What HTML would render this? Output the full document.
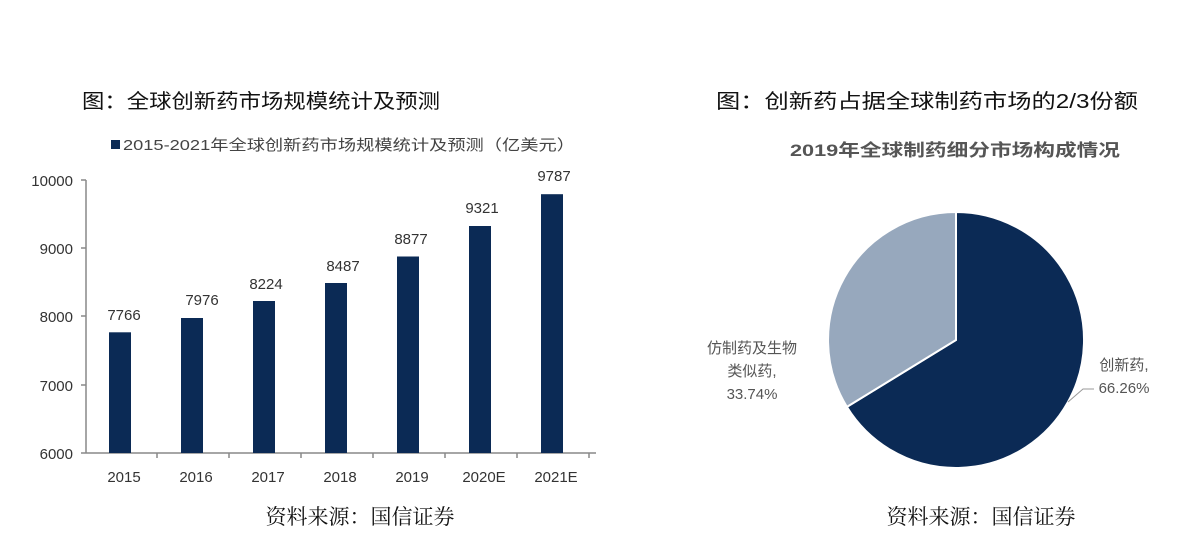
<!DOCTYPE html>
<html><head><meta charset="utf-8"><style>
html,body{margin:0;padding:0;background:#fff;}
svg{display:block;}
.s{font-family:"Liberation Sans","Noto Sans CJK SC",sans-serif;}
.serif{font-family:"Liberation Serif","Noto Serif CJK SC",serif;}
</style></head><body>
<svg width="1198" height="558" viewBox="0 0 1198 558" xmlns="http://www.w3.org/2000/svg">
<g class="s">
<text x="82" y="108" font-size="20" fill="#111" textLength="358" lengthAdjust="spacingAndGlyphs">图：全球创新药市场规模统计及预测</text>
<text x="716" y="108" font-size="20" fill="#111" textLength="422" lengthAdjust="spacingAndGlyphs">图：创新药占据全球制药市场的2/3份额</text>
<rect x="111" y="140" width="9" height="9" fill="#0b2a55"/>
<text x="123" y="150" font-size="15" fill="#444" textLength="452" lengthAdjust="spacingAndGlyphs">2015-2021年全球创新药市场规模统计及预测（亿美元）</text>
<g stroke="#888" stroke-width="1.5">
<line x1="86" y1="180" x2="86" y2="453"/>
<line x1="86" y1="453" x2="596" y2="453"/>
<line x1="81" y1="180" x2="86" y2="180"/>
<line x1="81" y1="248" x2="86" y2="248"/>
<line x1="81" y1="316" x2="86" y2="316"/>
<line x1="81" y1="385" x2="86" y2="385"/>
<line x1="81" y1="453" x2="86" y2="453"/>
<line x1="157" y1="453" x2="157" y2="458"/>
<line x1="229" y1="453" x2="229" y2="458"/>
<line x1="301" y1="453" x2="301" y2="458"/>
<line x1="373" y1="453" x2="373" y2="458"/>
<line x1="445" y1="453" x2="445" y2="458"/>
<line x1="517" y1="453" x2="517" y2="458"/>
<line x1="589" y1="453" x2="589" y2="458"/>
</g>
<g font-size="15" fill="#333" text-anchor="end">
<text x="73" y="186">10000</text>
<text x="73" y="254">9000</text>
<text x="73" y="322">8000</text>
<text x="73" y="391">7000</text>
<text x="73" y="459">6000</text>
</g>
<g fill="#0b2a55">
<rect x="109" y="332.3" width="22" height="120.7"/>
<rect x="181" y="318" width="22" height="135"/>
<rect x="253" y="301" width="22" height="152"/>
<rect x="325" y="283" width="22" height="170"/>
<rect x="397" y="256.5" width="22" height="196.5"/>
<rect x="469" y="226" width="22" height="227"/>
<rect x="541" y="194.2" width="22" height="258.8"/>
</g>
<g font-size="15" fill="#333" text-anchor="middle">
<text x="124" y="320">7766</text>
<text x="202" y="305">7976</text>
<text x="266" y="289">8224</text>
<text x="343" y="271">8487</text>
<text x="411" y="244">8877</text>
<text x="482" y="213">9321</text>
<text x="554" y="181">9787</text>
<text x="124" y="482">2015</text>
<text x="196" y="482">2016</text>
<text x="268" y="482">2017</text>
<text x="340" y="482">2018</text>
<text x="412" y="482">2019</text>
<text x="484" y="482">2020E</text>
<text x="556" y="482">2021E</text>
</g>
<text x="790" y="156" font-size="17" font-weight="bold" fill="#555" textLength="330" lengthAdjust="spacingAndGlyphs">2019年全球制药细分市场构成情况</text>
<path d="M956,340 L956,212 A128,128 0 1 1 846.9,406.9 Z" fill="#0b2a55" stroke="#fff" stroke-width="2"/>
<path d="M956,340 L846.9,406.9 A128,128 0 0 1 956,212 Z" fill="#97a8bd" stroke="#fff" stroke-width="2"/>
<polyline points="1068,402 1083,389 1094,389" fill="none" stroke="#999" stroke-width="1"/>
<g font-size="15" fill="#555" text-anchor="middle">
<text x="752" y="353">仿制药及生物</text>
<text x="752" y="376">类似药,</text>
<text x="752" y="399">33.74%</text>
<text x="1124" y="370">创新药,</text>
<text x="1124" y="393">66.26%</text>
</g>
</g>
<g class="serif" font-size="21" fill="#111" text-anchor="middle">
<text x="360" y="524">资料来源：国信证券</text>
<text x="981" y="524">资料来源：国信证券</text>
</g>
</svg>
</body></html>
